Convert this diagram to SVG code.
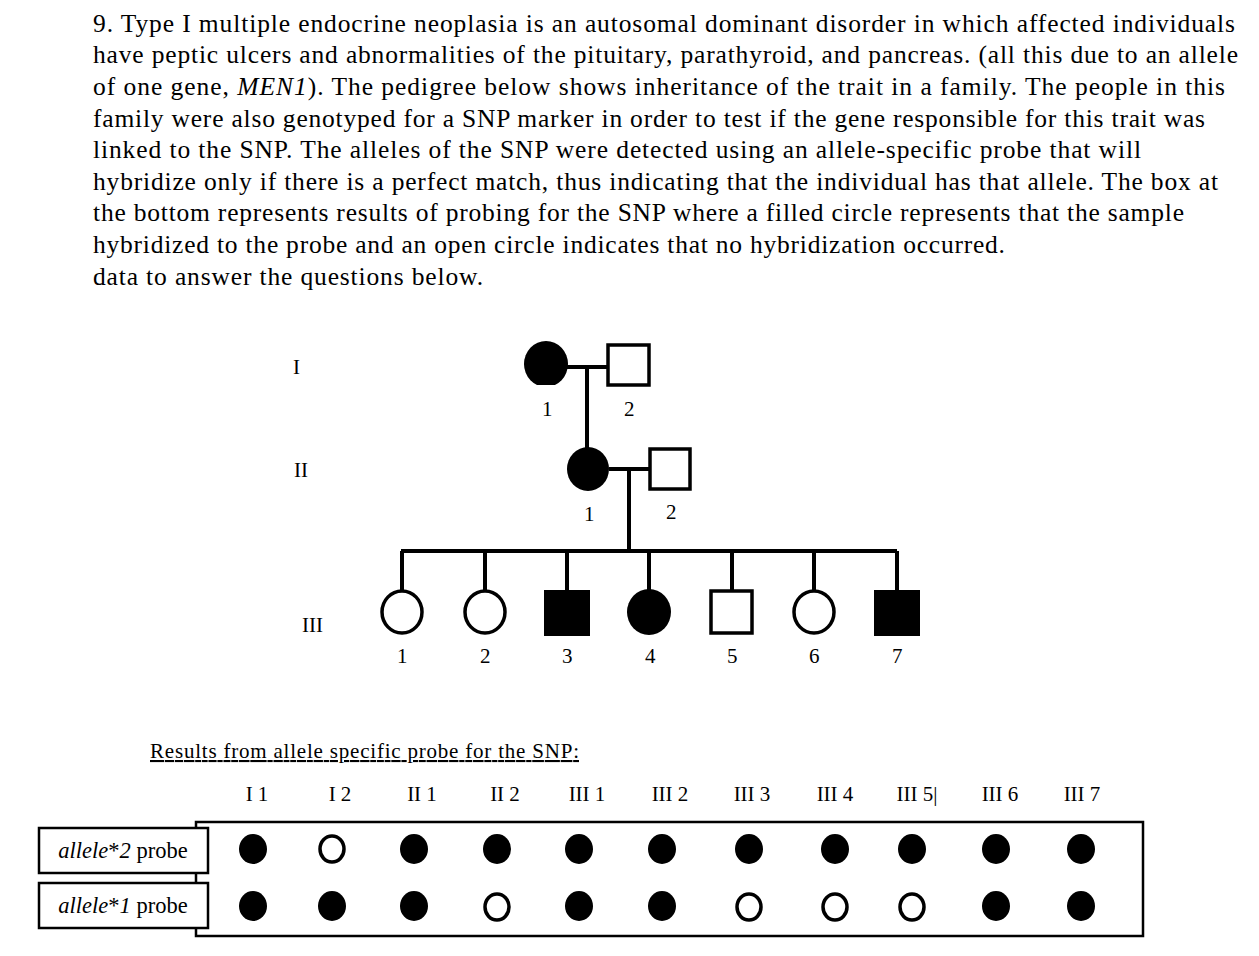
<svg xmlns="http://www.w3.org/2000/svg" width="1259" height="956" viewBox="0 0 1259 956">
<style>
text{font-family:"Liberation Serif",serif;fill:#000}
.p{font-size:25.5px}
.s{font-size:21px}
.ln{stroke:#000;stroke-width:4;fill:none}
.o{fill:#fff;stroke:#000;stroke-width:3.5}
.f{fill:#000}
.b{fill:#fff;stroke:#000;stroke-width:2.5}
</style>
<defs><clipPath id="c1"><rect x="500" y="330" width="100" height="55"/></clipPath></defs>
<rect width="1259" height="956" fill="#fff"/>
<g id="question" class="p">
<text x="93" y="32" textLength="1142" lengthAdjust="spacing">9. Type I multiple endocrine neoplasia is an autosomal dominant disorder in which affected individuals</text>
<text x="93" y="63" textLength="1145" lengthAdjust="spacing">have peptic ulcers and abnormalities of the pituitary, parathyroid, and pancreas.  (all this due to an allele</text>
<text x="93" y="95" textLength="1132" lengthAdjust="spacing">of one gene, <tspan font-style="italic">MEN1</tspan>).  The pedigree below shows inheritance of the trait in a family.  The people in this</text>
<text x="93" y="127" textLength="1112" lengthAdjust="spacing">family were also genotyped for a SNP marker in order to test if the gene responsible for this trait was</text>
<text x="93" y="158" textLength="1048" lengthAdjust="spacing">linked to the SNP.  The alleles of the SNP were detected using an allele-specific probe that will</text>
<text x="93" y="190" textLength="1125" lengthAdjust="spacing">hybridize only if there is a perfect match, thus indicating that the individual has that allele.  The box at</text>
<text x="93" y="221" textLength="1091" lengthAdjust="spacing">the bottom represents results of probing for the SNP where a filled circle represents that the sample</text>
<text x="93" y="253" textLength="912" lengthAdjust="spacing">hybridized to the probe and an open circle indicates that no hybridization occurred.</text>
<text x="93" y="285" textLength="390" lengthAdjust="spacing">data to answer the questions below.</text>
</g>
<g id="connectors" class="ln">
<path d="M567 367H607M587 367V448M609 469H650M629 469V551M401 551H897"/>
<path d="M402 551V592M485 551V592M567 551V592M649 551V592M732 551V592M814 551V592M897 551V592"/>
</g>
<g id="gen-labels" class="s">
<text x="293" y="374">I</text><text x="294" y="477">II</text><text x="302" y="632">III</text>
</g>
<g id="I1"><ellipse cx="546" cy="364" rx="22" ry="23" class="f" clip-path="url(#c1)"/><text x="542" y="416" class="s">1</text></g>
<g id="I2"><rect x="608" y="345" width="41" height="40" class="o"/><text x="624" y="416" class="s">2</text></g>
<g id="II1"><ellipse cx="588" cy="469" rx="21" ry="22" class="f"/><text x="584" y="521" class="s">1</text></g>
<g id="II2"><rect x="650" y="449" width="40" height="40" class="o"/><text x="666" y="519" class="s">2</text></g>
<g id="III1"><ellipse cx="402" cy="612" rx="20" ry="21" class="o"/><text x="397" y="663" class="s">1</text></g>
<g id="III2"><ellipse cx="485" cy="612" rx="20" ry="21" class="o"/><text x="480" y="663" class="s">2</text></g>
<g id="III3"><rect x="544" y="590" width="46" height="46" class="f"/><text x="562" y="663" class="s">3</text></g>
<g id="III4"><ellipse cx="649" cy="612" rx="22" ry="23" class="f"/><text x="645" y="663" class="s">4</text></g>
<g id="III5"><rect x="711" y="591" width="41" height="42" class="o"/><text x="727" y="663" class="s">5</text></g>
<g id="III6"><ellipse cx="814" cy="612" rx="20" ry="21" class="o"/><text x="809" y="663" class="s">6</text></g>
<g id="III7"><rect x="874" y="590" width="46" height="46" class="f"/><text x="892" y="663" class="s">7</text></g>
<g id="results">
<text x="150" y="758" class="s" text-decoration="underline" textLength="429" lengthAdjust="spacing">Results from allele specific probe for the SNP:</text>
<g class="s" text-anchor="middle">
<text x="257" y="801">I 1</text><text x="340" y="801">I 2</text><text x="422" y="801">II 1</text><text x="505" y="801">II 2</text><text x="587" y="801">III 1</text><text x="670" y="801">III 2</text><text x="752" y="801">III 3</text><text x="835" y="801">III 4</text><text x="917" y="801">III 5|</text><text x="1000" y="801">III 6</text><text x="1082" y="801">III 7</text>
</g>
<rect x="196" y="822" width="947" height="114" class="b"/>
<g id="probe2"><rect x="39" y="828" width="169" height="45" class="b"/><text x="123" y="858" font-size="22.5px" text-anchor="middle"><tspan font-style="italic">allele</tspan>*<tspan font-style="italic">2</tspan> probe</text></g>
<g id="probe1"><rect x="39" y="883" width="169" height="45" class="b"/><text x="123" y="913" font-size="22.5px" text-anchor="middle"><tspan font-style="italic">allele</tspan>*<tspan font-style="italic">1</tspan> probe</text></g>
<g class="f">
<ellipse cx="253" cy="849" rx="14" ry="15"/><ellipse cx="414" cy="849" rx="14" ry="15"/><ellipse cx="497" cy="849" rx="14" ry="15"/><ellipse cx="579" cy="849" rx="14" ry="15"/><ellipse cx="662" cy="849" rx="14" ry="15"/><ellipse cx="749" cy="849" rx="14" ry="15"/><ellipse cx="835" cy="849" rx="14" ry="15"/><ellipse cx="912" cy="849" rx="14" ry="15"/><ellipse cx="996" cy="849" rx="14" ry="15"/><ellipse cx="1081" cy="849" rx="14" ry="15"/>
<ellipse cx="253" cy="906" rx="14" ry="15"/><ellipse cx="332" cy="906" rx="14" ry="15"/><ellipse cx="414" cy="906" rx="14" ry="15"/><ellipse cx="579" cy="906" rx="14" ry="15"/><ellipse cx="662" cy="906" rx="14" ry="15"/><ellipse cx="996" cy="906" rx="14" ry="15"/><ellipse cx="1081" cy="906" rx="14" ry="15"/>
</g>
<g fill="#fff" stroke="#000" stroke-width="3.5">
<ellipse cx="332" cy="849" rx="12" ry="13"/><ellipse cx="497" cy="907" rx="12" ry="13"/><ellipse cx="749" cy="907" rx="12" ry="13"/><ellipse cx="835" cy="907" rx="12" ry="13"/><ellipse cx="912" cy="907" rx="12" ry="13"/>
</g>
</g>
</svg>
